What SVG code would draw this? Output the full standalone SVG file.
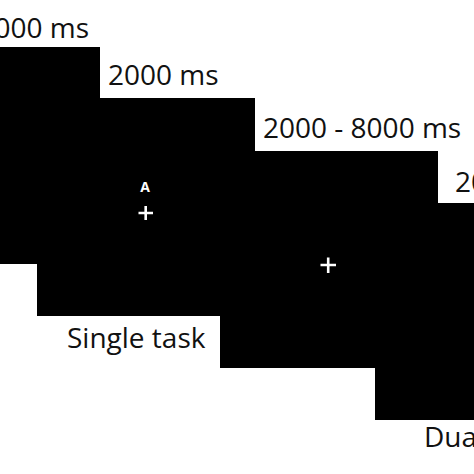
<svg xmlns="http://www.w3.org/2000/svg" width="474" height="474" viewBox="0 0 474 474">
<style>
.scr{fill:#000}
.lbl{font-family:"Open Sans","Liberation Sans",sans-serif;font-size:28px;fill:#111}
.fix{stroke:#fff;stroke-width:2.6;fill:none}
.stim{font-family:"Open Sans","Liberation Sans",sans-serif;font-size:14px;font-weight:bold;fill:#fff}
</style>
<rect width="474" height="474" fill="#fff"/>
<g id="screen1"><rect class="scr" x="-130" y="47" width="230" height="217"/></g>
<g id="screen2"><rect class="scr" x="37" y="98" width="218" height="218"/>
<text class="stim" x="145" y="192" text-anchor="middle">A</text>
<path class="fix" d="M138.5 213H153M145.7 206V220"/></g>
<g id="screen3"><rect class="scr" x="220" y="151" width="218" height="217"/>
<path class="fix" d="M320.5 265H336M328.2 257.5V273"/></g>
<g id="screen4"><rect class="scr" x="375" y="203" width="230" height="217"/></g>
<g id="labels">
<text class="lbl" x="89" y="38" text-anchor="end">000 ms</text>
<text class="lbl" x="108" y="85">2000 ms</text>
<text class="lbl" x="263" y="138">2000 - 8000 ms</text>
<text class="lbl" x="455" y="192">20</text>
<text class="lbl" x="67" y="348">Single task</text>
<text class="lbl" x="424" y="447">Dua</text>
</g>
<g id="connectors"/>
</svg>
